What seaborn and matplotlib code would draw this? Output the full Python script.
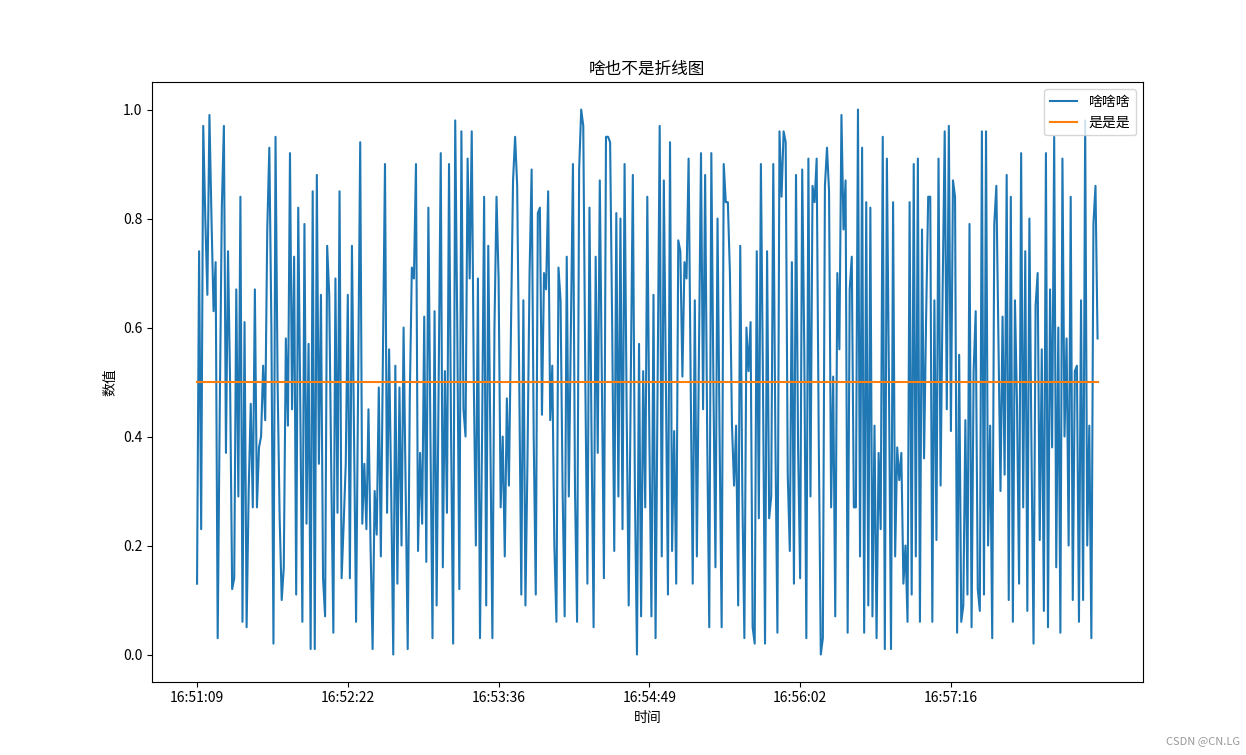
import numpy as np
import pandas as pd
import matplotlib
matplotlib.use("Agg")
import matplotlib.pyplot as plt
import seaborn as sns

# -- data (one sample per second) ----------------------------------------------
SEG_1 = [0.13, 0.74, 0.23, 0.97, 0.80, 0.66, 0.99, 0.80, 0.63, 0.72, 0.03, 0.45, 0.82,
         0.97, 0.37, 0.74, 0.50, 0.12, 0.14, 0.67, 0.29, 0.84, 0.06, 0.61, 0.05, 0.30,
         0.46, 0.27, 0.67, 0.27, 0.38, 0.40, 0.53, 0.43, 0.78, 0.93, 0.60, 0.02, 0.95,
         0.50, 0.25, 0.10, 0.16, 0.58, 0.42, 0.92, 0.45, 0.73, 0.11, 0.82, 0.45, 0.06,
         0.79, 0.24, 0.57, 0.01, 0.85, 0.01, 0.88, 0.35, 0.66, 0.14, 0.07, 0.75, 0.66,
         0.33, 0.04, 0.69, 0.26, 0.85, 0.14, 0.24, 0.35]
SEG_2 = [0.66, 0.14, 0.75, 0.40, 0.06, 0.50, 0.94, 0.24, 0.35, 0.23, 0.45, 0.20, 0.01,
         0.30, 0.22, 0.49, 0.18, 0.55, 0.90, 0.26, 0.56, 0.30, 0.00, 0.53, 0.13, 0.49,
         0.20, 0.60, 0.30, 0.01, 0.47, 0.71, 0.69, 0.90, 0.19, 0.37, 0.24, 0.62, 0.17,
         0.82, 0.40, 0.03, 0.63, 0.09, 0.50, 0.92, 0.16, 0.52, 0.26, 0.90, 0.40, 0.02,
         0.98, 0.60, 0.12, 0.96, 0.45, 0.40, 0.91, 0.69, 0.96, 0.50, 0.20, 0.69, 0.03,
         0.40, 0.84, 0.09, 0.75, 0.40, 0.03, 0.60]
SEG_3 = [0.84, 0.69, 0.27, 0.40, 0.18, 0.47, 0.31, 0.60, 0.87, 0.95, 0.86, 0.50, 0.11,
         0.65, 0.09, 0.36, 0.70, 0.89, 0.40, 0.11, 0.81, 0.82, 0.44, 0.70, 0.67, 0.85,
         0.43, 0.53, 0.20, 0.06, 0.71, 0.65, 0.30, 0.07, 0.73, 0.29, 0.60, 0.90, 0.30,
         0.06, 0.89, 1.00, 0.97, 0.50, 0.13, 0.82, 0.40, 0.05, 0.73, 0.37, 0.87, 0.50,
         0.14, 0.95, 0.95, 0.94, 0.60, 0.19, 0.81, 0.29, 0.80, 0.23, 0.90, 0.45, 0.09,
         0.50, 0.88, 0.30, 0.00, 0.57, 0.07, 0.52, 0.27]
SEG_4 = [0.84, 0.40, 0.07, 0.66, 0.03, 0.50, 0.97, 0.18, 0.87, 0.50, 0.11, 0.94, 0.19,
         0.41, 0.13, 0.76, 0.74, 0.51, 0.72, 0.69, 0.91, 0.50, 0.13, 0.65, 0.18, 0.55,
         0.92, 0.45, 0.88, 0.40, 0.05, 0.92, 0.50, 0.16, 0.80, 0.40, 0.05, 0.90, 0.83,
         0.83, 0.70, 0.42, 0.31, 0.42, 0.09, 0.75, 0.30, 0.03, 0.60, 0.52, 0.61, 0.05,
         0.02, 0.74, 0.25, 0.90, 0.50, 0.02, 0.74, 0.25, 0.29, 0.90, 0.40, 0.04, 0.96,
         0.84, 0.96, 0.94, 0.33, 0.19, 0.72, 0.13, 0.88]
SEG_5 = [0.38, 0.14, 0.89, 0.56, 0.03, 0.91, 0.29, 0.86, 0.83, 0.91, 0.40, 0.00, 0.03,
         0.86, 0.93, 0.85, 0.27, 0.51, 0.07, 0.70, 0.56, 0.99, 0.78, 0.87, 0.04, 0.67,
         0.73, 0.27, 0.27, 1.00, 0.18, 0.93, 0.04, 0.83, 0.09, 0.82, 0.07, 0.42, 0.03,
         0.37, 0.23, 0.95, 0.01, 0.91, 0.50, 0.01, 0.83, 0.18, 0.38, 0.32, 0.37, 0.13,
         0.20, 0.06, 0.83, 0.11, 0.90, 0.18, 0.91, 0.06, 0.78, 0.36, 0.62, 0.84, 0.84,
         0.06, 0.65, 0.21, 0.91, 0.31, 0.67, 0.96, 0.45]
SEG_6 = [0.97, 0.41, 0.87, 0.84, 0.04, 0.55, 0.06, 0.09, 0.43, 0.11, 0.79, 0.05, 0.52,
         0.63, 0.12, 0.08, 0.96, 0.11, 0.96, 0.20, 0.42, 0.03, 0.79, 0.86, 0.58, 0.30,
         0.62, 0.33, 0.88, 0.10, 0.84, 0.06, 0.65, 0.46, 0.13, 0.92, 0.27, 0.74, 0.08,
         0.80, 0.38, 0.02, 0.64, 0.70, 0.21, 0.56, 0.08, 0.92, 0.05, 0.67, 0.38, 0.95,
         0.16, 0.60, 0.04, 0.91, 0.40, 0.58, 0.20, 0.84, 0.10, 0.52, 0.53, 0.06, 0.65,
         0.10, 0.98, 0.20, 0.42, 0.03, 0.79, 0.86, 0.58]
VALUES = SEG_1 + SEG_2 + SEG_3 + SEG_4 + SEG_5 + SEG_6
REF_VALUE = 0.5
TICK_LABELS = ["16:51:09", "16:52:22", "16:53:36", "16:54:49", "16:56:02", "16:57:16"]
TICK_STEP = 73

df = pd.DataFrame({"idx": np.arange(len(VALUES)), "value": VALUES})
df["ref"] = REF_VALUE

plt.rcParams["font.family"] = ["Noto Sans CJK SC", "DejaVu Sans"]
plt.rcParams["axes.unicode_minus"] = False

fig = plt.figure(figsize=(12.46, 7.55), dpi=100)
ax = fig.add_axes([0.122, 0.097, 0.795, 0.794])
sns.lineplot(data=df, x="idx", y="value", color="#1f77b4", label="啥啥啥", ax=ax)
sns.lineplot(data=df, x="idx", y="ref", color="#ff7f0e", label="是是是", ax=ax)

ax.set_xticks([i * TICK_STEP for i in range(len(TICK_LABELS))])
ax.set_xticklabels(TICK_LABELS)
ax.set_xlabel("时间")
ax.set_ylabel("数值")
ax.set_title("啥也不是折线图")
ax.legend(loc="upper right")
fig.text(0.995, 0.012, "CSDN @CN.LG", ha="right", va="bottom", fontsize=8, color="#999999")

fig.savefig("out.png", dpi=100)
